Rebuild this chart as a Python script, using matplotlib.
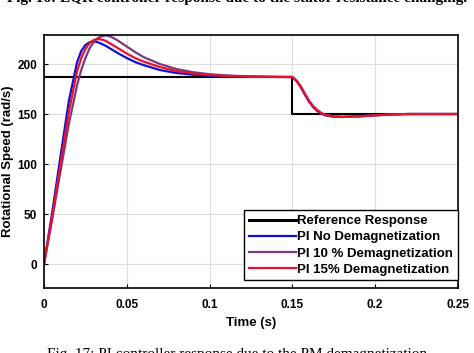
import matplotlib
matplotlib.use('Agg')
from matplotlib import pyplot as plt

# time samples (s)
t = [0, 0.005, 0.01, 0.015, 0.02, 0.0225, 0.025, 0.0275, 0.03, 0.0325, 0.035,
     0.0375, 0.04, 0.0425, 0.045, 0.05, 0.055,
     0.06, 0.07, 0.08, 0.09, 0.1, 0.11, 0.12, 0.13, 0.14, 0.15,
     0.1525, 0.155, 0.1575, 0.16, 0.1625, 0.165, 0.1675, 0.17, 0.175, 0.18,
     0.19, 0.2, 0.21, 0.22, 0.25]

ref_t = [0, 0.15, 0.15, 0.25]
ref_speed = [187, 187, 150, 150]

pi_none = [0, 52, 108, 163, 202, 213, 219, 221.8, 222.5, 221.8, 220,
           218, 215.5, 213, 210.5, 206, 202,
           199, 194, 191, 189.3, 188.3, 187.7, 187.4, 187.2, 187.05, 187,
           183, 177, 169.5, 162.5, 157, 153, 150.3, 148.6, 147.3, 147,
           147.8, 148.8, 149.6, 150, 150]
pi_10 = [0, 45, 93, 140, 179, 194, 206, 215.5, 222, 226, 228,
         228.6, 227.5, 225.5, 223, 217.5, 212,
         207, 200, 195, 191.8, 189.8, 188.6, 187.9, 187.4, 187.1, 187,
         183.5, 178, 170.5, 163.5, 158, 154, 151, 149.2, 147.7, 147.2,
         147.6, 148.6, 149.5, 150, 150]
pi_15 = [0, 48, 100, 152, 193, 206, 215, 221, 224, 225, 224.5,
         223, 220.5, 218, 215.5, 210.5, 206,
         202.5, 197, 193, 190.5, 189, 188.1, 187.6, 187.3, 187.1, 187,
         183.2, 177.5, 170, 163, 157.5, 153.5, 150.6, 148.9, 147.5, 147.1,
         147.7, 148.7, 149.6, 150, 150]

labels = ['Reference Response', 'PI No Demagnetization',
          'PI 10 % Demagnetization', 'PI 15% Demagnetization']
xticks = [0, 0.05, 0.1, 0.15, 0.2, 0.25]
xtick_labels = ['0', '0.05', '0.1', '0.15', '0.2', '0.25']
yticks = [0, 50, 100, 150, 200]

plt.rcParams['font.family'] = ['Liberation Sans', 'DejaVu Sans']

fig = plt.figure(figsize=(4.74, 3.53), dpi=100)
ax = fig.add_axes([0.0928, 0.1841, 0.8734, 0.7167])

ax.plot(ref_t, ref_speed, color='black', lw=1.5, label=labels[0])
ax.plot(t, pi_none, color='#1010d0', lw=1.6, label=labels[1])
ax.plot(t, pi_10, color='#7a3a80', lw=1.6, label=labels[2])
ax.plot(t, pi_15, color='#e8102a', lw=1.6, label=labels[3])

ax.set_xlim(0, 0.25)
ax.set_ylim(-24, 229)
ax.set_xticks(xticks)
ax.set_xticklabels(xtick_labels)
ax.set_yticks(yticks)
ax.tick_params(direction='in', length=3, labelsize=8.5)
ax.tick_params(axis='x', pad=8)
ax.tick_params(axis='y', pad=5)
for lab in ax.get_xticklabels() + ax.get_yticklabels():
    lab.set_fontweight('bold')
ax.grid(True, color='#dddddd', lw=0.8)
for s in ax.spines.values():
    s.set_linewidth(1.2)

ax.set_xlabel('Time (s)', fontsize=9.5, fontweight='bold', labelpad=4)
ax.set_ylabel('Rotational Speed (rad/s)', fontsize=9.5, fontweight='bold', labelpad=2)

leg = ax.legend(loc='lower right', bbox_to_anchor=(1.0, 0.03),
                prop={'weight': 'bold', 'size': 9.5},
                fancybox=False, edgecolor='black', framealpha=1,
                borderpad=0.35, labelspacing=0.3, handlelength=3.6,
                handletextpad=0.1, borderaxespad=0)
leg.get_frame().set_linewidth(1.0)
leg.get_lines()[0].set_linewidth(2.2)

# neighbouring captions of the paper page, clipped by the crop
fig.text(0.5, 1.004, 'Fig. 16: LQR controller response due to the stator resistance changing.',
         ha='center', va='center', fontsize=11, fontweight='bold',
         family=['Liberation Serif'])
fig.text(0.5, -0.005, 'Fig. 17: PI controller response due to the PM demagnetization',
         ha='center', va='center', fontsize=11, family=['Liberation Serif'])

fig.savefig('out.png', dpi=100)
